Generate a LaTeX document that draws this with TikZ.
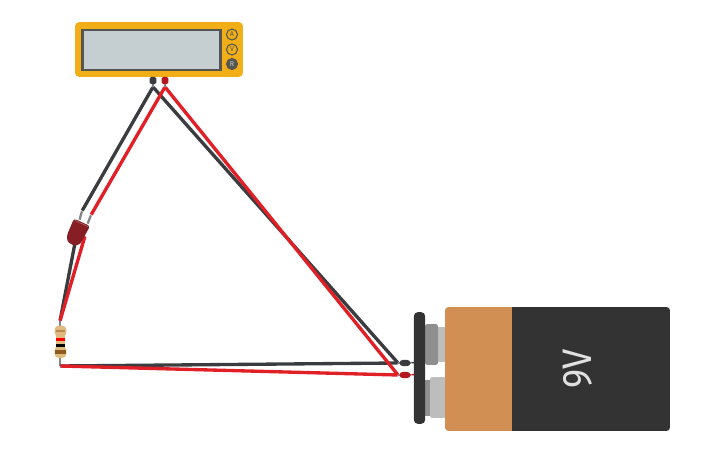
\documentclass[tikz,border=0pt]{standalone}
\usepackage{fontspec}
\setsansfont{Fira Sans}
\definecolor{meterbody}{HTML}{F2AE17}
\definecolor{meterscreen}{HTML}{C5CED0}
\definecolor{meterdark}{HTML}{555652}
\definecolor{wireblack}{HTML}{3A3C3F}
\definecolor{wirered}{HTML}{E01F26}
\definecolor{clipred}{HTML}{B3161C}
\definecolor{leadgray}{HTML}{858585}
\definecolor{termdark}{HTML}{8F8F8F}
\definecolor{termlight}{HTML}{BDBDBD}
\definecolor{batorange}{HTML}{D18F54}
\definecolor{batdark}{HTML}{333333}
\definecolor{ledred}{HTML}{861F25}
\definecolor{restan}{HTML}{E0BB80}
\definecolor{resbrown}{HTML}{8D5A22}
\tikzstyle{pin}=[inner sep=0pt,minimum size=0pt]
\tikzstyle{box}=[rectangle,inner sep=0pt,outer sep=0pt]
\tikzstyle{meterkey}=[circle,draw=meterdark,line width=0.6pt,minimum size=0.22cm,inner sep=0pt,text=meterdark,font=\sffamily\fontsize{4}{4}\selectfont]
\tikzstyle{blackwire}=[draw=wireblack,line width=1.9pt]
\tikzstyle{redwire}=[draw=wirered,line width=1.9pt]
\tikzstyle{lead}=[draw=leadgray,line width=1.3pt]
\tikzstyle{clip}=[ellipse,minimum width=0.24cm,minimum height=0.13cm,inner sep=0pt]
\usetikzlibrary{shapes.geometric}

\begin{document}
\begin{tikzpicture}[x=0.02cm,y=-0.02cm]
          \useasboundingbox (0, 0) rectangle (725, 453);

          % multimeter
          \node[box,fill=meterbody,minimum width=3.36cm,minimum height=1.1cm,rounded corners=2.5pt] at (159, 49.5) (meter) {};
          \node[box,fill=meterscreen,draw=meterdark,line width=1.4pt,minimum width=2.76cm,minimum height=0.8cm] at (151.5, 50) (screen) {};
          \node[meterkey] at (232, 34.5) (keyA) {A};
          \node[meterkey] at (232, 49.5) (keyV) {V};
          \node[meterkey,fill=meterdark,text=white!80!black] at (232, 64) (keyR) {R};
          \node[pin] at (153, 87) (tipB) {};
          \node[pin] at (165, 87) (tipR) {};
          \node[pin] at (153, 80) (stemB) {};
          \node[pin] at (165, 80) (stemR) {};
          \draw[lead] (tipB) edge (stemB);
          \draw[lead] (tipR) edge (stemR);
          \node[box,fill=wireblack,minimum width=0.14cm,minimum height=0.15cm,rounded corners=1pt] at (153, 80.5) (probeB) {};
          \node[box,fill=clipred,minimum width=0.14cm,minimum height=0.15cm,rounded corners=1pt] at (165, 80.5) (probeR) {};

          % led
          \node[pin] at (82, 211) (ledtopB) {};
          \node[pin] at (79.5, 220) (ledinB) {};
          \node[pin] at (91, 215) (ledtopR) {};
          \node[pin] at (87.5, 224) (ledinR) {};
          \node[pin] at (75, 243) (ledoutB) {};
          \node[pin] at (85, 236) (ledoutR) {};

          % resistor
          \node[pin] at (60, 321) (restop) {};
          \node[pin] at (60, 328) (resin) {};
          \node[pin] at (60, 356) (resout) {};
          \node[pin] at (60, 366) (resbot) {};

          % battery clips
          \node[pin] at (398, 363) (snapB) {};
          \node[pin] at (398, 375) (snapR) {};
          \node[pin] at (415, 362.5) (termB) {};
          \node[pin] at (415, 374.5) (termR) {};

          \draw[lead] (ledtopB) edge (ledinB);
          \draw[lead] (ledtopR) edge (ledinR);
          \draw[lead] (restop) edge (resin);
          \draw[lead] (resout) edge (resbot);

          \draw[blackwire] (tipB) edge (ledtopB);
          \draw[blackwire] (tipB) edge (snapB);
          \draw[blackwire] (ledoutB) edge (restop);
          \draw[blackwire] (resbot) edge (snapB);
          \draw[redwire] (tipR) edge (ledtopR);
          \draw[redwire] (tipR) edge (snapR);
          \draw[redwire] (ledoutR) edge (restop);
          \draw[redwire] (resbot) edge (snapR);

          % led body
          \fill[ledred,rounded corners=1.5pt] (74, 218.5) -- (90, 226) -- (82, 241) .. controls (78, 247) and (67, 246) .. (67, 235) -- cycle;
          \draw[ledred!70!white,line width=0.4pt] (75, 220.5) -- (88, 226.5);

          % resistor body
          \node[box,fill=restan,minimum width=0.18cm,minimum height=0.5cm] at (60.5, 341) (resmid) {};
          \node[box,fill=restan,minimum width=0.24cm,minimum height=0.22cm,rounded corners=2.5pt] at (60.5, 331) (rescapA) {};
          \node[box,fill=restan,minimum width=0.24cm,minimum height=0.24cm,rounded corners=2.5pt] at (60.5, 352) (rescapB) {};
          \node[box,fill=red,minimum width=0.18cm,minimum height=0.07cm] at (60.5, 339.5) (bandA) {};
          \node[box,fill=black,minimum width=0.18cm,minimum height=0.07cm] at (60.5, 345.5) (bandB) {};
          \node[box,fill=resbrown,minimum width=0.24cm,minimum height=0.07cm] at (60.5, 352) (bandC) {};
          \node[box,fill=resbrown!50!restan,minimum width=0.2cm,minimum height=0.03cm] at (60.5, 331) (bandD) {};

          % battery
          \node[box,fill=termdark,minimum width=0.26cm,minimum height=0.82cm,rounded corners=1pt] at (431.5, 344.5) (termtop) {};
          \node[box,fill=termlight,minimum width=0.16cm,minimum height=0.7cm] at (442, 344.5) (termtopin) {};
          \node[box,fill=termdark,minimum width=0.14cm,minimum height=0.72cm] at (427.5, 398) (termbot) {};
          \node[box,fill=termlight,minimum width=0.32cm,minimum height=0.82cm,rounded corners=1pt] at (438, 397.5) (termbotin) {};
          \node[box,fill=batorange,minimum width=1.4cm,minimum height=2.48cm,rounded corners=2pt] at (480, 369) (batcase) {};
          \node[box,fill=batdark,minimum width=3.16cm,minimum height=2.48cm,rounded corners=2pt] at (591, 369) (batpack) {};
          \fill[batdark] (512, 307) rectangle (530, 431);
          \fill[batorange] (500, 307) rectangle (512, 431);
          \node[box,fill=batdark,minimum width=0.23cm,minimum height=2.24cm,rounded corners=2.5pt] at (419.5, 368) (snapbar) {};
          \node[rotate=90,xscale=0.88,text=white!88!black,inner sep=0pt,font=\sffamily\fontsize{23.5}{23.5}\selectfont] at (578, 369) (label) {9V};

          \node[clip,fill=wireblack] at (405, 363) (clipB) {};
          \node[clip,fill=clipred] at (405, 375) (clipR) {};
          \draw[wireblack,line width=0.8pt] (clipB) edge (termB);
          \draw[clipred,line width=0.8pt] (clipR) edge (termR);
          \draw[lead] (snapB) edge (clipB);
          \draw[lead] (snapR) edge (clipR);
        \end{tikzpicture}
\end{document}
